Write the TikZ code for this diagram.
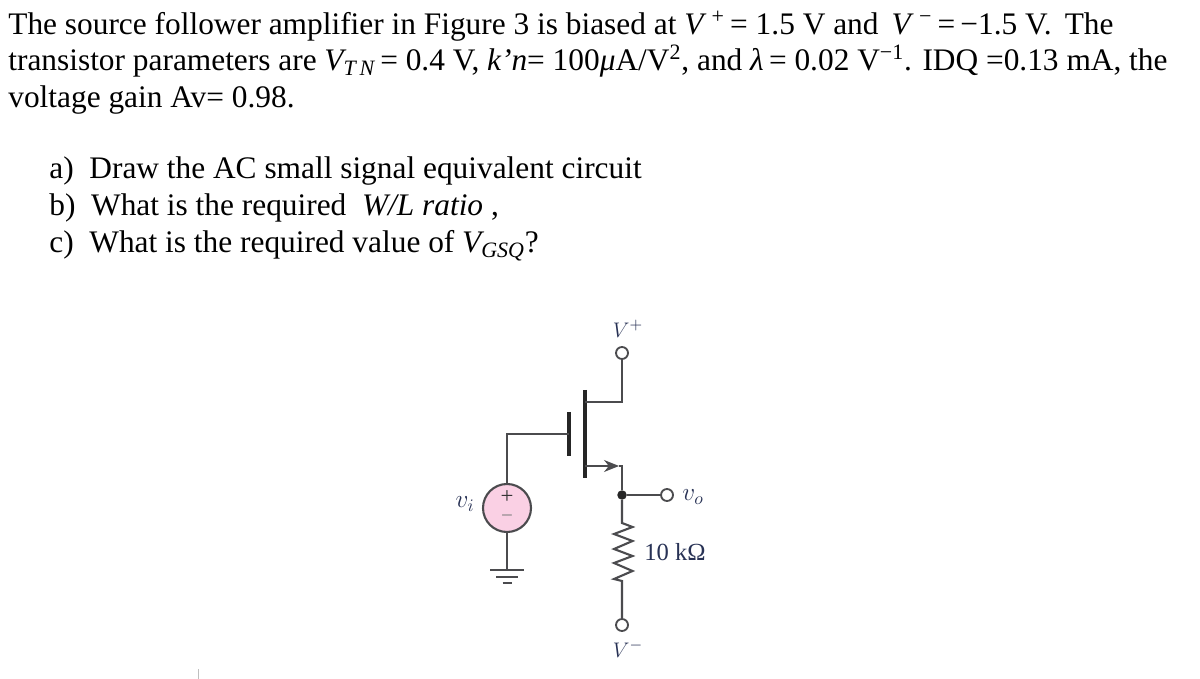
\documentclass[tikz,border=0pt]{standalone}
\usepackage{fontspec}
\setmainfont{Liberation Serif}
\usepackage{tikz}
\usetikzlibrary{arrows.meta, positioning, calc}
\definecolor{mywire}{RGB}{75,75,78}
\definecolor{mypink}{RGB}{250,208,228}
\definecolor{mylabel}{RGB}{40,50,85}
\tikzset{
  textline/.style={anchor=base west,inner sep=0pt,font=\fontsize{17.85}{20}\selectfont},
  wire/.style={draw=mywire,line width=1.05pt},
  bar/.style={draw=black!85,line width=1.8pt},
  terminal/.style={circle,draw=mywire,fill=white,line width=1.05pt,inner sep=0pt,minimum size=0.24cm},
  junction/.style={circle,fill=black!85,inner sep=0pt,minimum size=0.19cm},
  cirlabel/.style={inner sep=0pt,text=mylabel,font=\fontsize{14}{16}\selectfont},
}
\begin{document}
\begin{tikzpicture}
    \useasboundingbox (0,0) rectangle (24,-13.58);

    % Problem statement
    \node[textline] (lineA) at (0.16,-0.70) {The source follower amplifier in Figure 3 is biased at \textit{V}\,\textsuperscript{+}\,= 1.5 V and\hspace{3pt} \textit{V}\,\textsuperscript{−}\,=\,−1.5 V.\hspace{3pt} The};
    \node[textline] (lineB) at (0.16,-1.42) {transistor parameters are \textit{V\textsubscript{T\,N}}\,= 0.4 V, \textit{k’n}= 100\textit{μ}A/V\textsuperscript{2}, and \textit{λ}\,= 0.02 V\textsuperscript{−1}. IDQ =0.13 mA, the};
    \node[textline] (lineC) at (0.16,-2.16) {voltage gain Av= 0.98.};

    % Questions
    \node[textline] (partA) at (0.98,-3.58) {a)\ \ Draw the AC small signal equivalent circuit};
    \node[textline] (partB) at (0.98,-4.32) {b)\ \ What is the required\ \ \textit{W/L ratio} ,};
    \node[textline] (partC) at (0.98,-5.06) {c)\ \ What is the required value of \textit{V\textsubscript{GSQ}}?};

    % Transistor
    \coordinate (chantop) at (11.70,-7.80);
    \coordinate (chanbot) at (11.70,-9.56);
    \coordinate (gatetop) at (11.38,-8.24);
    \coordinate (gatebot) at (11.38,-9.12);
    \coordinate (gatemid) at (11.38,-8.68);
    \coordinate (drainin) at (11.70,-8.04);
    \coordinate (draincor) at (12.44,-8.04);
    \coordinate (sourceout) at (11.70,-9.32);
    \coordinate (arrowtip) at (12.38,-9.32);
    \coordinate (sourcecor) at (12.44,-9.32);
    \draw[bar] (chantop) -- (chanbot);
    \draw[bar] (gatetop) -- (gatebot);

    % Supply and output
    \node[terminal] (vplus) at (12.44,-7.06) {};
    \node[terminal] (vminus) at (12.44,-12.50) {};
    \node[terminal] (vout) at (13.34,-9.90) {};
    \node[junction] (srcnode) at (12.44,-9.90) {};
    \draw[wire] (vplus) -- (draincor) -- (drainin);
    \draw[wire,-{Stealth[length=0.3cm,width=0.24cm]}] (sourceout) -- (arrowtip);
    \draw[wire] (arrowtip) -- (sourcecor) -- (srcnode);
    \draw[wire] (srcnode) -- (vout);

    % Load resistor
    \coordinate (restop) at (12.44,-10.46);
    \coordinate (resbot) at (12.44,-11.62);
    \draw[wire,line width=1.2pt] (srcnode) -- (restop) -- (12.65,-10.54) -- (12.28,-10.68) -- (12.65,-10.82)
      -- (12.28,-10.98) -- (12.65,-11.12) -- (12.28,-11.26) -- (12.65,-11.42) -- (12.28,-11.58) -- (resbot) -- (vminus);

    % Signal source
    \node[circle,draw=mywire,fill=mypink,line width=1.2pt,minimum size=0.96cm,inner sep=0pt] (vsig) at (10.14,-10.16) {};
    \node[inner sep=0pt,font=\fontsize{13}{14}\selectfont,text=black!80] (plus) at (10.14,-9.94) {+};
    \node[inner sep=0pt,font=\fontsize{12}{13}\selectfont,text=black!50] (minus) at (10.14,-10.38) {−};
    \coordinate (gndtop) at (10.14,-11.40);
    \draw[wire] (gatemid) -| (vsig.north);
    \draw[wire] (vsig.south) -- (gndtop);
    \draw[wire] (9.80,-11.40) -- (10.48,-11.40);
    \draw[wire] (9.92,-11.54) -- (10.36,-11.54);
    \draw[wire] (10.05,-11.66) -- (10.23,-11.66);

    % Labels
    \node[cirlabel,font=\fontsize{13}{15}\selectfont] (vplab) at (12.56,-6.58) {$V^{+}$};
    \node[cirlabel,font=\fontsize{13}{15}\selectfont] (vmlab) at (12.56,-12.98) {$V^{-}$};
    \node[cirlabel] (volab) at (13.86,-9.94) {$v_o$};
    \node[cirlabel] (vilab) at (9.30,-10.08) {$v_i$};
    \node[cirlabel] (rlab) at (13.50,-11.04) {10 kΩ};

    % Stray mark at the lower edge
    \draw[black!25,line width=0.4pt] (3.96,-13.38) -- (3.96,-13.58);
\end{tikzpicture}
\end{document}
